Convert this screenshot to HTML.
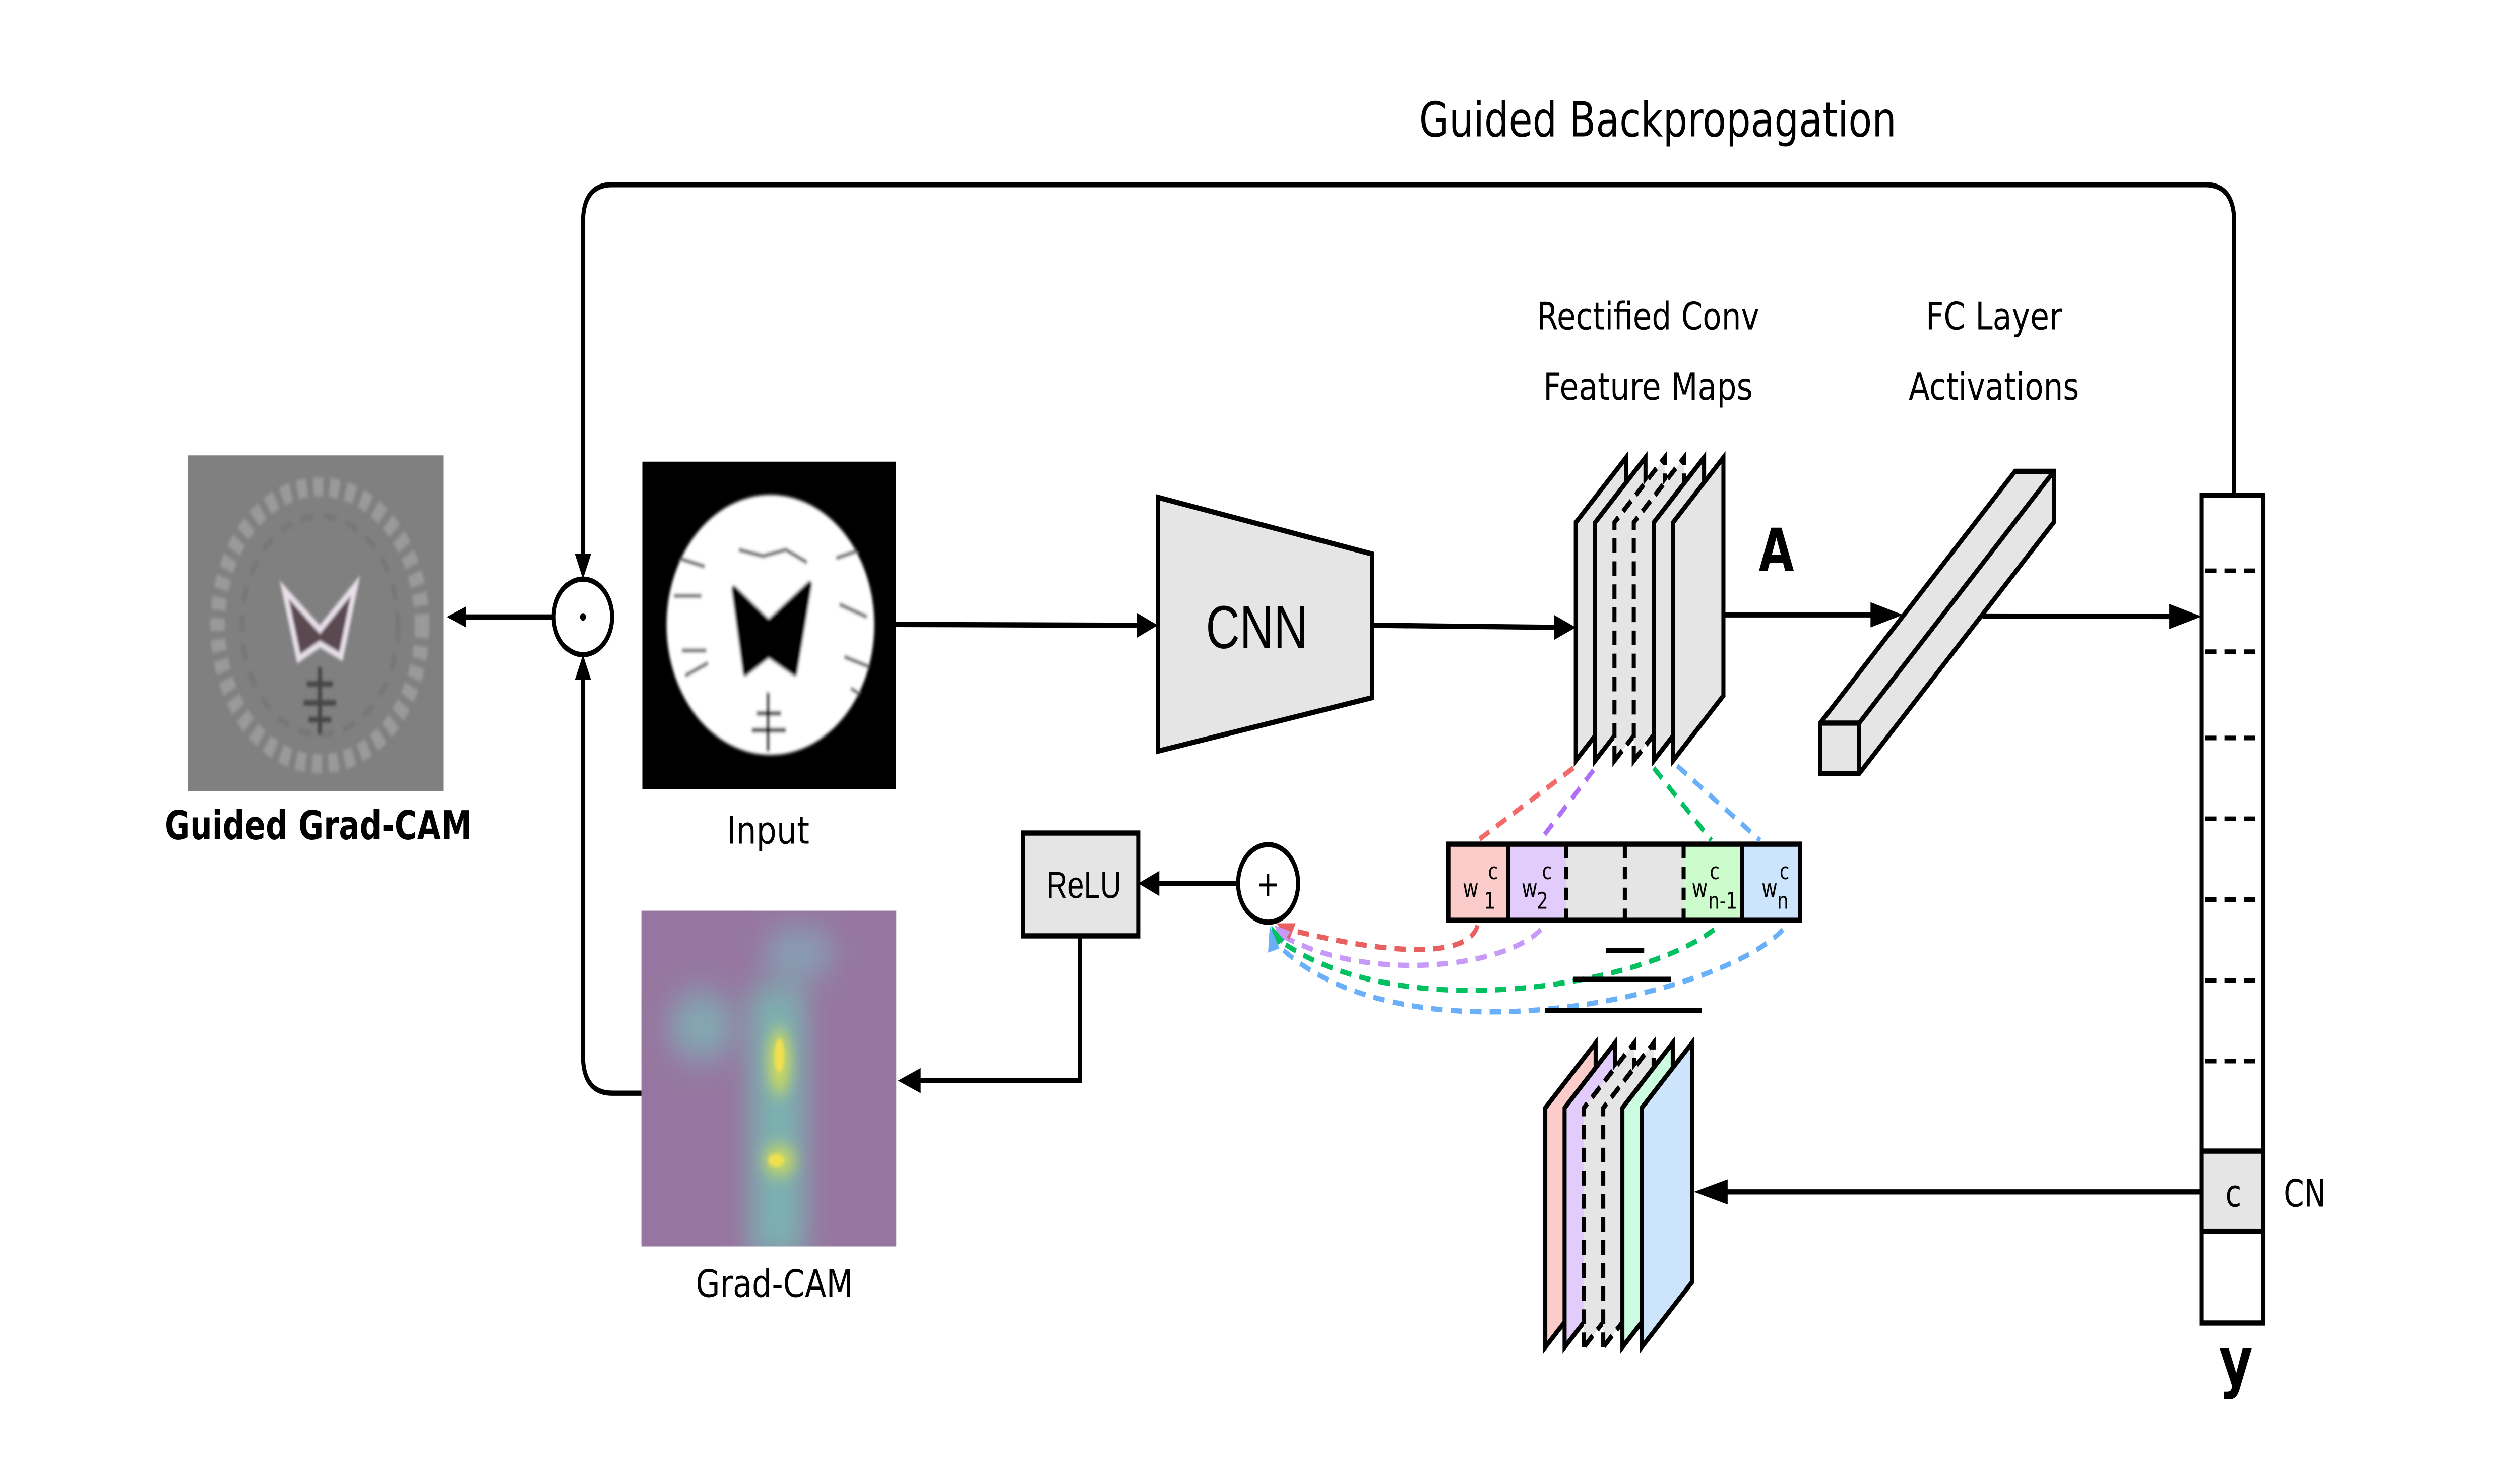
<!DOCTYPE html>
<html><head><meta charset="utf-8"><style>
html,body{margin:0;padding:0;background:#fff;width:100%;height:100%;overflow:hidden;}
svg{display:block;width:100vw;height:100vh;position:absolute;left:0;top:0;}
text{font-family:"DejaVu Sans","Liberation Sans",sans-serif;fill:#000;}
</style></head><body>
<svg xmlns="http://www.w3.org/2000/svg" viewBox="0 0 1552 701.5" preserveAspectRatio="none">
<defs>
<filter id="b8" x="-50%" y="-50%" width="200%" height="200%"><feGaussianBlur stdDeviation="8"/></filter>
<filter id="b4" x="-50%" y="-50%" width="200%" height="200%"><feGaussianBlur stdDeviation="4"/></filter>
<filter id="b1" x="-20%" y="-20%" width="140%" height="140%"><feGaussianBlur stdDeviation="0.8"/></filter>
<clipPath id="gc"><rect x="395" y="434" width="157" height="160"/></clipPath>
</defs>
<rect width="1552" height="701.5" fill="#fff"/>

<text x="1021" y="65" font-size="23" text-anchor="middle" textLength="294" lengthAdjust="spacingAndGlyphs">Guided Backpropagation</text>
<path d="M1376,236 V106 Q1376,88 1358,88 H377 Q359,88 359,106 V265" fill="none" stroke="#000" stroke-width="2.5"/>
<polygon points="359,276 354,264 364,264" fill="#000"/>
<path d="M395,521 H377 Q359,521 359,503 V323" fill="none" stroke="#000" stroke-width="2.5"/>
<polygon points="359,312 354,324 364,324" fill="#000"/>

<circle cx="359" cy="294" r="18" fill="#fff" stroke="#000" stroke-width="2.5"/>
<circle cx="359" cy="294" r="1.8" fill="#000"/>
<line x1="341" y1="294" x2="285" y2="294" stroke="#000" stroke-width="2.5"/>
<polygon points="275,294 287,289 287,299" fill="#000"/>

<rect x="116" y="217" width="157" height="160" fill="#808080"/>
<g filter="url(#b1)">
<ellipse cx="197" cy="298" rx="63" ry="66" fill="none" stroke="#9a9a9a" stroke-width="9" stroke-dasharray="6,4"/>
<ellipse cx="197" cy="298" rx="48" ry="52" fill="none" stroke="#777" stroke-width="3" stroke-dasharray="8,6"/>
<path d="M175,281 L197,300 L219,279 L210,313 L197,307 L184,314 Z" fill="#5a4a50" stroke="#e8e0e8" stroke-width="3"/>
<path d="M197,318 V350 M189,326 H205 M187,335 H207 M190,343 H204" stroke="#444" stroke-width="2.5"/>
</g>
<text x="196" y="400" font-size="19" font-weight="bold" text-anchor="middle" textLength="189" lengthAdjust="spacingAndGlyphs">Guided Grad-CAM</text>

<rect x="395.6" y="220" width="156" height="156" fill="#000"/>
<g filter="url(#b1)">
<ellipse cx="474.5" cy="297.8" rx="64" ry="62" fill="#fff"/>
<path d="M452,280.6 L473.4,296.7 L498.6,278.4 L489.5,320.8 L473.4,312 L459,320.8 Z" fill="#000" stroke="#000" stroke-width="3" stroke-linejoin="round"/>
<path d="M473,330 V358 M466,340 H481 M463,348 H484" stroke="#000" stroke-width="2"/>
<path d="M415,284 H432 M420,310 H435 M422,322 L436,316 M418,266 L434,270 M515,266 L530,262 M517,288 L534,294 M520,313 L536,318 M524,328 L532,332 M455,262 L470,265 L484,262 L497,268" stroke="#000" stroke-width="1.6" fill="none"/>
</g>
<text x="473" y="402" font-size="18" text-anchor="middle" textLength="51" lengthAdjust="spacingAndGlyphs">Input</text>

<line x1="551.5" y1="297.6" x2="703" y2="298" stroke="#000" stroke-width="2.5"/>
<polygon points="713,298 700,292 700,304" fill="#000"/>

<polygon points="713,237 845,264 845,332.5 713,358" fill="#e5e5e5" stroke="#000" stroke-width="2.5"/>
<text x="774" y="309" font-size="29" text-anchor="middle" style="font-family:'Liberation Sans',sans-serif">CNN</text>

<line x1="845" y1="298" x2="960" y2="299" stroke="#000" stroke-width="2.5"/>
<polygon points="970.5,299 957,293 957,305" fill="#000"/>

<text x="1015" y="157" font-size="18" text-anchor="middle" textLength="137" lengthAdjust="spacingAndGlyphs">Rectified Conv</text>
<text x="1015" y="190.5" font-size="18" text-anchor="middle" textLength="129" lengthAdjust="spacingAndGlyphs">Feature Maps</text>
<text x="1228" y="157" font-size="18" text-anchor="middle" textLength="84" lengthAdjust="spacingAndGlyphs">FC Layer</text>
<text x="1228" y="190.5" font-size="18" text-anchor="middle" textLength="105" lengthAdjust="spacingAndGlyphs">Activations</text>

<g stroke="#000" stroke-width="2.5" fill="#e5e5e5">
<polygon points="970.5,362.5 970.5,249 1001.5,218 1001.5,331.5"/>
<polygon points="982.4,362.5 982.4,249 1013.4,218 1013.4,331.5"/>
<polygon points="994.3,362.5 994.3,249 1025.3,218 1025.3,331.5" stroke-dasharray="7,4"/>
<polygon points="1006.2,362.5 1006.2,249 1037.2,218 1037.2,331.5" stroke-dasharray="7,4"/>
<polygon points="1018.5,362.5 1018.5,249 1049.5,218 1049.5,331.5"/>
<polygon points="1030.4,362.5 1030.4,249 1061.4,218 1061.4,331.5"/>
</g>
<text x="1094" y="272" font-size="28" font-weight="bold" text-anchor="middle">A</text>

<line x1="1061.4" y1="293" x2="1160" y2="293" stroke="#000" stroke-width="2.5"/>
<polygon points="1172,293 1152,287 1152,299" fill="#000"/>
<g stroke="#000" stroke-width="2.5" fill="#e5e5e5">
<polygon points="1121,344.6 1241,224.6 1265,224.6 1265,248.8 1145,368.7 1121,368.7"/>
<polyline points="1121,344.6 1145,344.6 1265,224.6" fill="none"/>
<line x1="1145" y1="344.6" x2="1145" y2="368.7"/>
</g>
<line x1="1221" y1="293.6" x2="1344" y2="293.8" stroke="#000" stroke-width="2.5"/>
<polygon points="1356,293.8 1336,287.8 1336,299.8" fill="#000"/>

<rect x="1356" y="236" width="38" height="394.5" fill="#fff" stroke="#000" stroke-width="2.5"/>
<g stroke="#000" stroke-width="2.2" stroke-dasharray="7,5">
<line x1="1358" y1="272" x2="1394" y2="272"/>
<line x1="1358" y1="310.6" x2="1394" y2="310.6"/>
<line x1="1358" y1="351.7" x2="1394" y2="351.7"/>
<line x1="1358" y1="390.2" x2="1394" y2="390.2"/>
<line x1="1358" y1="428.7" x2="1394" y2="428.7"/>
<line x1="1358" y1="467.2" x2="1394" y2="467.2"/>
<line x1="1358" y1="505.7" x2="1394" y2="505.7"/>
</g>
<rect x="1356" y="548.6" width="38" height="38.1" fill="#e5e5e5" stroke="#000" stroke-width="2.5"/>
<text x="1375.5" y="575" font-size="18" text-anchor="middle">c</text>
<text x="1419.5" y="575" font-size="18" text-anchor="middle" textLength="26" lengthAdjust="spacingAndGlyphs">CN</text>
<text x="1377" y="660" font-size="32" font-weight="bold" text-anchor="middle">y</text>

<line x1="1356" y1="568" x2="1055" y2="568" stroke="#000" stroke-width="2.5"/>
<polygon points="1043.3,568 1064,562 1064,574" fill="#000"/>

<rect x="892" y="402.3" width="37" height="36.3" fill="#fccccb"/>
<rect x="929" y="402.3" width="35.6" height="36.3" fill="#e2ccfc"/>
<rect x="964.6" y="402.3" width="72.3" height="36.3" fill="#e5e5e5"/>
<rect x="1036.9" y="402.3" width="36.1" height="36.3" fill="#ccfccc"/>
<rect x="1073" y="402.3" width="35.6" height="36.3" fill="#cce4fc"/>
<rect x="892" y="402.3" width="216.6" height="36.3" fill="none" stroke="#000" stroke-width="2.5"/>
<line x1="929" y1="402.3" x2="929" y2="438.6" stroke="#000" stroke-width="2.5"/>
<line x1="1073" y1="402.3" x2="1073" y2="438.6" stroke="#000" stroke-width="2.5"/>
<g stroke="#000" stroke-width="2.5" stroke-dasharray="6,4">
<line x1="964.6" y1="403" x2="964.6" y2="438"/>
<line x1="1000.7" y1="403" x2="1000.7" y2="438"/>
<line x1="1036.9" y1="403" x2="1036.9" y2="438"/>
</g>
<g font-size="12">
<text x="905.7" y="427.5" text-anchor="middle">w</text><text x="919.5" y="419" font-size="11" text-anchor="middle">c</text><text x="917.5" y="433" font-size="11" text-anchor="middle">1</text>
<text x="942" y="427.5" text-anchor="middle">w</text><text x="952.7" y="419" font-size="11" text-anchor="middle">c</text><text x="950" y="433" font-size="11" text-anchor="middle">2</text>
<text x="1046.8" y="427.5" text-anchor="middle">w</text><text x="1056" y="419" font-size="11" text-anchor="middle">c</text><text x="1061" y="433" font-size="11" text-anchor="middle">n-1</text>
<text x="1089.8" y="427.5" text-anchor="middle">w</text><text x="1099" y="419" font-size="11" text-anchor="middle">c</text><text x="1098" y="433" font-size="11" text-anchor="middle">n</text>
</g>

<g stroke-width="2.5" stroke-dasharray="7,5" fill="none">
<line x1="969" y1="366" x2="911" y2="400" stroke="#f26a6a"/>
<line x1="981.4" y1="367" x2="949" y2="400" stroke="#b070f5"/>
<line x1="1018.5" y1="366" x2="1054" y2="400.5" stroke="#00c060"/>
<line x1="1033" y1="365" x2="1084" y2="400.5" stroke="#6ab0f8"/>
</g>
<g stroke-width="2.5" stroke-dasharray="7,5" fill="none">
<path d="M910,441 C905,456 860,456 794,443" stroke="#e86060"/>
<path d="M949,443 C925,462 840,468 790,446" stroke="#c89af8"/>
<path d="M1055.7,443 C1010,470 860,490 786,447" stroke="#00c060"/>
<path d="M1098,443 C1060,475 860,510 784,448" stroke="#6ab0f8"/>
</g>
<polygon points="786,440 798,440 794,448" fill="#e86060"/>
<polygon points="785,441 795,444 789,450" fill="#c89af8"/>
<polygon points="783,441 791,448 784,452" fill="#00c060"/>
<polygon points="782,441 788,452 781,454" fill="#6ab0f8"/>

<g stroke="#000" stroke-width="2.5">
<line x1="989" y1="452.9" x2="1012.6" y2="452.9"/>
<line x1="969" y1="466.7" x2="1029" y2="466.7"/>
<line x1="951.7" y1="481.5" x2="1048" y2="481.5"/>
</g>

<g stroke="#000" stroke-width="2.5">
<polygon points="951.7,642 951.7,528 982.7,497 982.7,611" fill="#fccccb"/>
<polygon points="963.6,642 963.6,528 994.6,497 994.6,611" fill="#e2ccfc"/>
<polygon points="975.5,642 975.5,528 1006.5,497 1006.5,611" fill="#e5e5e5" stroke-dasharray="7,4"/>
<polygon points="987.4,642 987.4,528 1018.4,497 1018.4,611" fill="#e5e5e5" stroke-dasharray="7,4"/>
<polygon points="999.2,642 999.2,528 1030.2,497 1030.2,611" fill="#ccfce0"/>
<polygon points="1011.1,642 1011.1,528 1042.1,497 1042.1,611" fill="#cce4fc"/>
</g>

<circle cx="781" cy="421" r="18.5" fill="#fff" stroke="#000" stroke-width="2.5"/>
<text x="781" y="427" font-size="17" text-anchor="middle">+</text>
<line x1="762.5" y1="421" x2="712" y2="421" stroke="#000" stroke-width="2.5"/>
<polygon points="701,421 714,415 714,427" fill="#000"/>
<rect x="630" y="397" width="71" height="49" fill="#e5e5e5" stroke="#000" stroke-width="2.5"/>
<text x="667.5" y="428" font-size="18" text-anchor="middle" style="font-family:'Liberation Sans',sans-serif">ReLU</text>
<polyline points="665,446 665,515 566,515" fill="none" stroke="#000" stroke-width="2.5"/>
<polygon points="553,515 567,509 567,521" fill="#000"/>

<g clip-path="url(#gc)">
<rect x="395" y="434" width="157" height="160" fill="#9676a0"/>
<g filter="url(#b8)">
<rect x="462" y="470" width="34" height="130" fill="#7cb0b0"/>
<ellipse cx="432" cy="489" rx="20" ry="16" fill="#82a8b2"/>
<ellipse cx="492" cy="454" rx="22" ry="11" fill="#86a2b4"/>
</g>
<g filter="url(#b4)">
<ellipse cx="480" cy="506" rx="7" ry="16" fill="#c8d860"/>
<ellipse cx="480" cy="553" rx="10" ry="7" fill="#c8d860"/>
</g>
<ellipse cx="480" cy="503" rx="3" ry="8" fill="#f0e050" filter="url(#b1)"/>
<ellipse cx="478" cy="553" rx="5" ry="3" fill="#f0e050" filter="url(#b1)"/>
</g>
<text x="477" y="618" font-size="18" text-anchor="middle" textLength="97" lengthAdjust="spacingAndGlyphs">Grad-CAM</text>
</svg>
</body></html>
